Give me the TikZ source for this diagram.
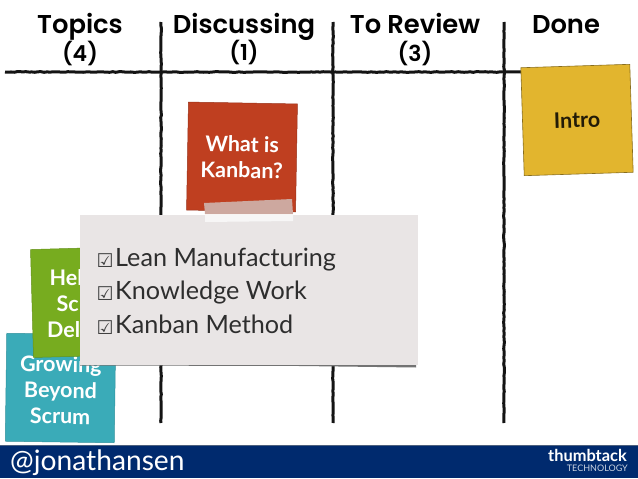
\documentclass[tikz,border=0pt]{standalone}
\usepackage{fontspec}
\setmainfont{Lato}
\newfontfamily\symfont{DejaVu Sans}
\newfontfamily\headfont{Poppins SemiBold}
\usetikzlibrary{decorations.pathmorphing,positioning}
\definecolor{rednote}{HTML}{BF3F20}
\definecolor{yellownote}{HTML}{E2B52E}
\definecolor{greennote}{HTML}{77AC1F}
\definecolor{tealnote}{HTML}{3AABB8}
\definecolor{cardgrey}{HTML}{E9E5E5}
\definecolor{footerblue}{HTML}{002A6E}
\definecolor{tapecol}{HTML}{CDA89F}
\tikzset{
  x=1pt,y=-1pt,
  board/.style={line width=3pt,black!92,decorate,decoration={random steps,segment length=3pt,amplitude=0.35pt}},
  note/.style={minimum width=109pt,minimum height=108pt,inner sep=0pt,align=center,font=\bfseries\fontsize{21.5}{26}\selectfont,text=white},
  notetext/.style={inner sep=0pt,align=center,font=\bfseries\fontsize{21.5}{26}\selectfont,text=white},
  greentext/.style={font=\bfseries\fontsize{21.5}{26}\selectfont,text=white,inner sep=0pt,anchor=base west},
  heading/.style={font=\headfont\fontsize{25.8}{26}\selectfont,text=black,inner sep=0pt,anchor=base},
  count/.style={font=\headfont\fontsize{22}{26}\selectfont,text=black,inner sep=0pt,anchor=base},
  item/.style={font=\fontsize{25.2}{30}\selectfont,text=black!82,inner sep=0pt,anchor=base west},
  chk/.style={font=\symfont\fontsize{19}{20}\selectfont,text=black!75,inner sep=0pt,anchor=base west},
}
\pgfmathsetseed{42}
\begin{document}
\begin{tikzpicture}
\useasboundingbox (0,0) rectangle (638,479);
\fill[white] (0,0) rectangle (638,479);
% board
\coordinate (hl) at (5,72); \coordinate (hr) at (522,72);
\coordinate (a1) at (161,22); \coordinate (a2) at (161,423);
\coordinate (b1) at (333,22); \coordinate (b2) at (333,423);
\coordinate (c1) at (504,22); \coordinate (c2) at (504,423);
\draw[board] (hl) -- (hr);
\draw[board] (a1) -- (a2);
\draw[board] (b1) -- (b2);
\draw[board] (c1) -- (c2);
% headings
\node[heading] (t1) at (80,34) {Topics};
\node[count] (t1n) at (80,61) {(4)};
\node[heading] (t2) at (244,34) {Discussing};
\node[count] (t2n) at (244,60) {(1)};
\node[heading] (t3) at (415,34) {To Review};
\node[count] (t3n) at (415,61) {(3)};
\node[heading] (t4) at (566,34) {Done};
% notes
\node[note,fill=rednote,draw=rednote!80!black,line width=.5pt,rotate=-1] (red) at (242,157) {What is\\Kanban?};
\fill[tapecol] (204,203) -- (292,199) -- (293,214) -- (205,214) -- cycle;
\node[note,fill=yellownote,draw=yellownote!60!black,line width=.6pt,rotate=1.8,text=black!85!yellownote] (yellow) at (577,120) {Intro};
\node[note,fill=tealnote,draw=tealnote!85!black,line width=.5pt,rotate=-.8] (teal) at (60.5,388) {};
\node[notetext,rotate=-.8] (tealtext) at (60.5,390) {Growing\\Beyond\\Scrum};
\node[note,fill=greennote,draw=greennote!85!black,line width=.5pt,rotate=1.6] (green) at (86.5,302) {};
\node[greentext] (g1) at (49.5,285) {Hel};
\node[greentext] (g2) at (56.5,311) {Sc};
\node[greentext] (g3) at (47,337) {Del};
% card
\fill[black!55] (80,364) -- (416,364) -- (416,367.5) -- (300,366) -- (80,365.5) -- cycle;
\fill[cardgrey] (80,215) rectangle (418,365);
\fill[white!65!cardgrey] (205,215) -- (293,215) -- (293,221) -- (205,222) -- cycle;
\node[chk] (c1k) at (96.5,267) {☑};
\node[item] (i1) at (115,266) {Lean Manufacturing};
\node[chk] (c2k) at (96.5,300.5) {☑};
\node[item] (i2) at (115,299.5) {Knowledge Work};
\node[chk] (c3k) at (96.5,334) {☑};
\node[item] (i3) at (115,333) {Kanban Method};
% footer
\fill[footerblue] (0,445) rectangle (638,478);
\fill[black!35!footerblue!70!white] (0,444.5) rectangle (638,445.5);
\node[font=\fontsize{28.2}{30}\selectfont,text=white,inner sep=0pt,anchor=base west] (handle) at (10,470) {@jonathansen};
\node[font=\bfseries\fontsize{16.4}{16}\selectfont,text=white,inner sep=0pt,anchor=base east] (thumb) at (627,461.5) {thumbtack};
\node[font=\fontsize{9}{10}\selectfont,text=white!80!footerblue,inner sep=0pt,anchor=base east] (tech) at (628,471) {TECHNOLOGY};
\end{tikzpicture}
\end{document}
